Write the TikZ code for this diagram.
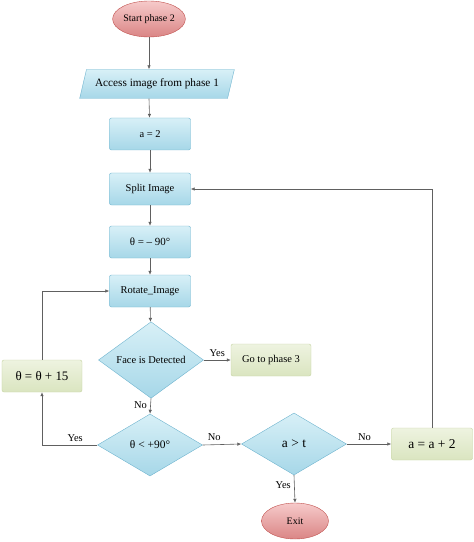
\documentclass[tikz,border=0pt]{standalone}
\usepackage{fontspec}
\setmainfont{Liberation Serif}
\usetikzlibrary{shapes.geometric,arrows.meta}
\definecolor{bluetop}{HTML}{D8F0F7}
\definecolor{bluebot}{HTML}{A6D7E8}
\definecolor{blueline}{HTML}{6DB3CE}
\definecolor{greentop}{HTML}{EEF3E0}
\definecolor{greenbot}{HTML}{DAE5C0}
\definecolor{greenline}{HTML}{C5D3A2}
\definecolor{redtop}{HTML}{F6CACA}
\definecolor{redbot}{HTML}{DA8585}
\definecolor{redline}{HTML}{C0504D}
\definecolor{arr}{HTML}{606060}
\begin{document}
\begin{tikzpicture}[x=1bp,y=-1bp,
  every node/.style={font=\fontsize{10.5}{12}\selectfont},
  bluebox/.style={rectangle,rounded corners=2bp,draw=blueline,top color=bluetop,bottom color=bluebot,minimum width=81bp,minimum height=32bp,inner sep=0},
  greenbox/.style={rectangle,rounded corners=2bp,draw=greenline,top color=greentop,bottom color=greenbot,minimum width=80bp,minimum height=32bp,inner sep=0},
  bluedia/.style={diamond,draw=blueline,top color=bluetop,bottom color=bluebot,minimum width=105bp,minimum height=62bp,inner sep=0},
  redell/.style={ellipse,draw=redline,top color=redtop,bottom color=redbot,minimum width=67bp,minimum height=36bp,inner sep=0},
  para/.style={trapezium,trapezium left angle=60,trapezium right angle=120,trapezium stretches=true,draw=blueline,top color=bluetop,bottom color=bluebot,minimum width=155bp,minimum height=29bp,inner sep=0},
  conn/.style={draw=arr,line width=0.6bp,-{Latex[length=4bp,width=3.5bp]}},
  lbl/.style={font=\fontsize{10.5}{12}\selectfont}
]
\useasboundingbox (0,0) rectangle (474,542);
\node[redell,font=\fontsize{10}{12}\selectfont] (start) at (149,19) {Start phase 2};
\node[para,font=\fontsize{11.3}{13}\selectfont] (access) at (157,84) {Access image from phase 1};
\node[bluebox] (a2) at (150,134) {a = 2};
\node[bluebox] (split) at (150,189) {Split Image};
\node[bluebox,font=\fontsize{11}{13}\selectfont] (theta) at (150,242) {θ = – 90°};
\node[bluebox] (rot) at (150,291) {Rotate\_Image};
\node[bluedia] (face) at (151,360) {Face is Detected};
\node[greenbox] (go3) at (271,360) {Go to phase 3};
\node[greenbox,font=\fontsize{13}{15}\selectfont] (inc) at (42,376) {θ = θ + 15};
\node[bluedia,font=\fontsize{11.5}{13}\selectfont] (lt90) at (150,445) {θ < +90°};
\node[bluedia,font=\fontsize{13.5}{15}\selectfont] (agt) at (294,444) {a > t};
\node[greenbox,minimum width=81bp,font=\fontsize{13.5}{15}\selectfont] (ainc) at (432,444) {a = a + 2};
\node[redell,font=\fontsize{10}{12}\selectfont] (exit) at (295,521) {Exit};

\path[conn] (start) -- (start|-access.north);
\path[conn] (start|-access.south) -- (a2);
\path[conn] (a2) -- (split);
\path[conn] (split) -- (theta);
\path[conn] (theta) -- (rot);
\path[conn] (rot) -- (face);
\path[conn] (face.east) -- node[lbl,above]{Yes} (go3.west);
\path[conn] (face.south) -- node[lbl,left,pos=0.45]{No} (lt90.north);
\path[conn] (lt90.east) -- node[lbl,above,pos=0.3]{No} (agt.west);
\path[conn] (agt.east) -- node[lbl,above,pos=0.4]{No} (ainc.west);
\path[conn] (agt.south) -- node[lbl,left,pos=0.35]{Yes} (exit.north);
\path[conn] (lt90.west) -- node[lbl,above,pos=0.4]{Yes} (lt90.west-|inc.south) -- (inc.south);
\path[conn] (inc.north) -- (inc.north|-rot.west) -- (rot.west);
\path[conn] (ainc.north) -- (ainc.north|-split.east) -- (split.east);
\end{tikzpicture}
\end{document}
